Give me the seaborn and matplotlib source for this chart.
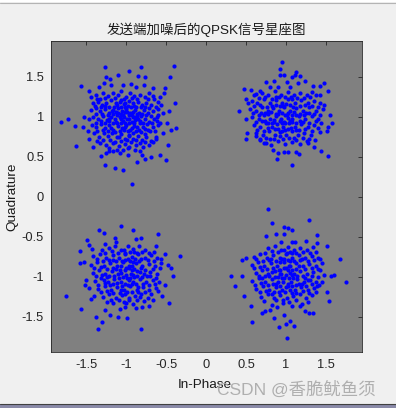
import numpy as np
import pandas as pd
import matplotlib
matplotlib.use("Agg")
import matplotlib.pyplot as plt
import seaborn as sns
from matplotlib.lines import Line2D
from matplotlib.patches import Rectangle

# Received QPSK symbols (I, Q), one list per constellation point
ul_points = [
    (-1.26, 1.62), (-0.81, 1.62), (-0.40, 1.64), (-0.96, 1.57), (-1.10, 1.53), (-1.25, 1.50),
    (-1.20, 1.48), (-0.85, 1.51), (-0.77, 1.50), (-0.45, 1.50), (-1.56, 1.39), (-1.47, 1.33),
    (-1.34, 1.38), (-1.28, 1.42), (-1.19, 1.40), (-1.04, 1.40), (-0.94, 1.41), (-0.88, 1.38),
    (-0.78, 1.40), (-0.66, 1.36), (-0.52, 1.36), (-0.53, 1.30), (-0.58, 1.25), (-0.39, 1.18),
    (-0.46, 1.07), (-0.375, 0.86), (-0.44, 0.84), (-0.49, 0.92), (-1.81, 0.94), (-1.73, 0.97),
    (-1.64, 0.89), (-1.54, 0.88), (-1.53, 1.00), (-1.47, 0.97), (-1.48, 0.82), (-1.63, 0.64),
    (-1.41, 0.63), (-1.46, 0.73), (-1.31, 0.51), (-1.25, 0.55), (-1.21, 0.57), (-1.17, 0.57),
    (-1.08, 0.55), (-0.98, 0.53), (-0.89, 0.59), (-0.80, 0.53), (-0.76, 0.47), (-0.69, 0.50),
    (-0.58, 0.53), (-0.50, 0.46), (-0.48, 0.65), (-1.26, 0.40), (-1.14, 0.36), (-1.04, 0.34),
    (-0.86, 0.44), (-0.93, 0.16), (-0.63, 0.75), (-0.54, 0.80),
    (-1.44, 1.25), (-1.38, 1.27), (-1.33, 1.23), (-1.29, 1.30), (-1.23, 1.26), (-1.17, 1.30),
    (-1.10, 1.27), (-1.06, 1.32), (-1.00, 1.25), (-0.95, 1.30), (-0.90, 1.26), (-0.83, 1.275),
    (-0.77, 1.25), (-0.71, 1.30), (-0.65, 1.23), (-0.60, 1.19),
    (-1.42, 1.17), (-1.35, 1.19), (-1.30, 1.15), (-1.25, 1.18), (-1.19, 1.21), (-1.13, 1.17),
    (-1.08, 1.19), (-1.02, 1.17), (-0.97, 1.20), (-0.92, 1.17), (-0.85, 1.19), (-0.80, 1.15),
    (-0.75, 1.18), (-0.69, 1.15), (-0.63, 1.13), (-0.56, 1.15),
    (-1.44, 1.09), (-1.375, 1.11), (-1.33, 1.07), (-1.26, 1.10), (-1.21, 1.05), (-1.16, 1.09),
    (-1.10, 1.11), (-1.05, 1.07), (-1.00, 1.10), (-0.95, 1.05), (-0.89, 1.09), (-0.84, 1.055),
    (-0.78, 1.09), (-0.73, 1.05), (-0.67, 1.07), (-0.60, 1.03), (-0.54, 1.05),
    (-1.41, 1.00), (-1.35, 0.97), (-1.29, 1.01), (-1.24, 0.96), (-1.19, 1.00), (-1.13, 0.94),
    (-1.08, 1.00), (-1.04, 0.95), (-0.99, 0.98), (-0.93, 0.94), (-0.875, 1.00), (-0.825, 0.95),
    (-0.77, 0.98), (-0.71, 0.94), (-0.65, 0.97), (-0.58, 0.92),
    (-1.425, 0.90), (-1.375, 0.88), (-1.31, 0.91), (-1.26, 0.86), (-1.21, 0.90), (-1.16, 0.84),
    (-1.10, 0.89), (-1.05, 0.86), (-1.00, 0.90), (-0.95, 0.84), (-0.90, 0.89), (-0.84, 0.84),
    (-0.79, 0.88), (-0.73, 0.84), (-0.67, 0.88), (-0.60, 0.90),
    (-1.40, 0.80), (-1.34, 0.75), (-1.28, 0.80), (-1.23, 0.76), (-1.175, 0.80), (-1.12, 0.745),
    (-1.06, 0.79), (-1.01, 0.73), (-0.96, 0.78), (-0.91, 0.72), (-0.85, 0.76), (-0.80, 0.71),
    (-0.75, 0.745), (-0.69, 0.70), (-0.63, 0.73),
    (-1.33, 0.67), (-1.25, 0.65), (-1.17, 0.68), (-1.09, 0.64), (-1.02, 0.66), (-0.96, 0.62),
    (-0.875, 0.65), (-0.79, 0.62), (-0.71, 0.65),
    (-1.15, 1.13), (-1.06, 1.13), (-0.98, 1.14), (-1.21, 1.13), (-0.875, 1.13), (-1.04, 1.03),
    (-1.10, 1.05), (-0.93, 1.03), (-1.16, 0.92), (-0.83, 0.92), (-1.26, 0.93), (-0.98, 0.82),
    (-1.08, 0.82), (-0.875, 0.82), (-0.77, 0.79), (-1.29, 0.71), (-0.94, 0.69), (-1.04, 0.59),
    (-1.12, 0.59), (-0.83, 0.57), (-0.98, 0.61), (-1.21, 0.61),
    (-1.03, 1.00), (-0.96, 0.93), (-1.07, 0.93), (-0.92, 1.00), (-1.12, 1.02), (-0.99, 1.06),
    (-0.89, 0.96), (-1.14, 0.97), (-1.01, 0.88), (-0.94, 1.12), (-1.18, 1.08), (-0.86, 1.04),
    (-1.06, 1.21), (-0.81, 1.01), (-1.22, 0.98), (-1.09, 0.75), (-0.97, 0.76), (-1.19, 0.86),
    (-0.91, 0.80), (-1.03, 1.16),
    (-1.36, 1.22), (-1.27, 1.235), (-1.14, 1.24), (-1.03, 1.225), (-0.93, 1.235), (-0.86, 1.22),
    (-0.73, 1.23), (-0.67, 1.26),
    (-1.39, 1.14), (-1.32, 1.12), (-1.27, 1.14), (-1.11, 1.15), (-1.01, 1.13), (-0.90, 1.14),
    (-0.82, 1.12), (-0.77, 1.13), (-0.71, 1.11), (-0.60, 1.10),
    (-1.38, 1.04), (-1.30, 1.04), (-1.23, 1.02), (-1.17, 1.04), (-1.13, 1.06), (-1.07, 1.04),
    (-1.02, 1.06), (-0.97, 1.02), (-0.91, 1.06), (-0.86, 1.01), (-0.80, 1.04), (-0.75, 1.02),
    (-0.69, 1.01), (-0.62, 1.00),
    (-1.38, 0.93), (-1.32, 0.95), (-1.21, 0.95), (-1.11, 0.92), (-1.06, 0.97), (-1.01, 0.93),
    (-0.97, 0.97), (-0.90, 0.92), (-0.85, 0.97), (-0.79, 0.93), (-0.74, 0.91), (-0.68, 0.92),
    (-0.62, 0.95),
    (-1.36, 0.83), (-1.29, 0.84), (-1.23, 0.82), (-1.14, 0.81), (-1.03, 0.84), (-0.93, 0.86),
    (-0.87, 0.87), (-0.81, 0.81), (-0.76, 0.85), (-0.70, 0.82), (-0.64, 0.82),
    (-1.37, 0.70), (-1.20, 0.71), (-1.14, 0.69), (-1.07, 0.70), (-0.99, 0.71), (-0.88, 0.71),
    (-0.83, 0.68), (-0.76, 0.69), (-0.66, 0.69),
]

ur_points = [
    (0.95, 1.69), (0.93, 1.60), (1.13, 1.56), (1.11, 1.53), (1.17, 1.51), (0.93, 1.525),
    (0.97, 1.525), (1.08, 1.50), (0.745, 1.44), (0.85, 1.45), (1.01, 1.44), (1.24, 1.45),
    (1.47, 1.43), (1.34, 1.39), (1.42, 1.39), (0.475, 1.35), (0.56, 1.34), (0.68, 1.325),
    (0.80, 1.37), (1.52, 1.32), (1.38, 1.27), (1.425, 1.275), (0.50, 1.23), (0.60, 1.27),
    (0.41, 1.08), (0.52, 1.17), (0.50, 0.975), (1.55, 1.03), (1.57, 0.92), (1.52, 0.88),
    (1.47, 1.15), (0.51, 0.80), (0.50, 0.73), (0.63, 0.76), (0.67, 0.71), (0.75, 0.68),
    (0.84, 0.59), (0.905, 0.55), (0.98, 0.56), (0.89, 0.48), (1.03, 0.56), (1.12, 0.56),
    (1.16, 0.54), (1.27, 0.675), (1.35, 0.63), (1.44, 0.57), (1.52, 0.51), (1.08, 0.40),
    (1.36, 0.71), (1.42, 0.81), (1.51, 0.82),
    (0.62, 1.29), (0.70, 1.30), (0.78, 1.27), (0.86, 1.32), (0.94, 1.28), (1.02, 1.31),
    (1.10, 1.27), (1.18, 1.30), (1.26, 1.28), (1.33, 1.31), (0.90, 1.37), (1.05, 1.38),
    (1.15, 1.42),
    (0.57, 1.20), (0.64, 1.17), (0.72, 1.22), (0.80, 1.18), (0.87, 1.21), (0.95, 1.17),
    (1.03, 1.22), (1.11, 1.18), (1.19, 1.21), (1.27, 1.17), (1.35, 1.20), (1.43, 1.18),
    (0.55, 1.10), (0.62, 1.07), (0.70, 1.12), (0.77, 1.08), (0.84, 1.11), (0.91, 1.07),
    (0.98, 1.12), (1.05, 1.08), (1.13, 1.11), (1.21, 1.07), (1.29, 1.12), (1.37, 1.08),
    (1.46, 1.10),
    (0.58, 1.00), (0.66, 0.97), (0.73, 1.02), (0.80, 0.98), (0.87, 1.01), (0.94, 0.97),
    (1.01, 1.02), (1.08, 0.98), (1.16, 1.01), (1.24, 0.97), (1.32, 1.01), (1.40, 0.98),
    (0.60, 0.90), (0.68, 0.87), (0.75, 0.92), (0.82, 0.88), (0.89, 0.91), (0.96, 0.87),
    (1.04, 0.92), (1.11, 0.88), (1.19, 0.91), (1.27, 0.87), (1.35, 0.90), (1.44, 0.93),
    (0.63, 0.80), (0.71, 0.77), (0.79, 0.82), (0.86, 0.78), (0.93, 0.81), (1.00, 0.77),
    (1.08, 0.82), (1.15, 0.78), (1.23, 0.80), (1.31, 0.77),
    (0.72, 0.68), (0.81, 0.65), (0.90, 0.70), (0.99, 0.66), (1.07, 0.69), (1.18, 0.66),
    (1.26, 0.70),
    (0.90, 1.04), (0.97, 0.94), (0.85, 0.96), (1.03, 1.05), (0.93, 1.14), (0.78, 1.04),
    (1.07, 0.94), (0.99, 0.84), (0.86, 0.85), (1.13, 1.03), (0.82, 1.14), (1.00, 1.16),
    (0.74, 0.95), (1.18, 0.95), (0.92, 0.76), (1.06, 1.25), (0.88, 1.25), (1.25, 1.05),
    (0.69, 1.05), (1.12, 0.84), (0.95, 0.92), (0.83, 0.93), (1.03, 0.99), (0.80, 0.73),
    (1.10, 0.74),
    (0.66, 1.24), (0.74, 1.25), (0.83, 1.23), (0.91, 1.245), (0.99, 1.25), (1.07, 1.23),
    (1.14, 1.24), (1.23, 1.235), (1.30, 1.25),
    (0.60, 1.14), (0.68, 1.15), (0.76, 1.13), (0.88, 1.15), (0.96, 1.14), (1.05, 1.15),
    (1.09, 1.13), (1.17, 1.14), (1.24, 1.15), (1.32, 1.14), (1.40, 1.13),
    (0.59, 1.05), (0.66, 1.03), (0.74, 1.05), (0.81, 1.06), (0.87, 1.04), (0.95, 1.05),
    (0.99, 1.03), (1.07, 1.03), (1.10, 1.06), (1.18, 1.04), (1.22, 1.02), (1.29, 1.05),
    (1.35, 1.04), (1.43, 1.03),
    (0.63, 0.94), (0.70, 0.95), (0.77, 0.93), (0.85, 0.94), (0.92, 0.95), (0.99, 0.93),
    (1.05, 0.95), (1.12, 0.93), (1.21, 0.94), (1.29, 0.93), (1.37, 0.95),
    (0.64, 0.84), (0.72, 0.83), (0.78, 0.86), (0.90, 0.85), (0.95, 0.83), (1.02, 0.85),
    (1.06, 0.86), (1.16, 0.84), (1.24, 0.85), (1.33, 0.83), (1.40, 0.86),
    (0.67, 0.73), (0.75, 0.74), (0.85, 0.72), (0.96, 0.73), (1.04, 0.74), (1.13, 0.71),
    (1.21, 0.74), (1.29, 0.73),
]

ll_points = [
    (-1.06, -0.37), (-1.34, -0.42), (-1.28, -0.45), (-0.92, -0.41), (-0.60, -0.46), (-1.49, -0.545),
    (-1.46, -0.60), (-1.145, -0.52), (-1.13, -0.56), (-0.875, -0.53), (-0.81, -0.52), (-1.575, -0.68),
    (-1.58, -0.83), (-1.53, -0.82), (-1.425, -0.65), (-1.27, -0.59), (-0.625, -0.61), (-0.51, -0.72),
    (-0.44, -0.89), (-0.33, -0.74), (-0.48, -0.85), (-1.75, -1.24), (-1.50, -1.04), (-1.52, -1.10),
    (-1.47, -1.14), (-1.44, -1.28), (-1.40, -1.24), (-1.57, -1.40), (-1.375, -1.50), (-1.30, -1.57),
    (-1.35, -1.65), (-1.20, -1.48), (-1.10, -1.50), (-0.99, -1.52), (-0.81, -1.65), (-0.875, -1.39),
    (-0.80, -1.38), (-0.72, -1.36), (-0.66, -1.29), (-0.55, -1.24), (-0.47, -1.33), (-0.42, -0.99),
    (-0.52, -1.10), (-0.60, -1.18), (-1.26, -1.41), (-1.08, -1.40), (-1.02, -1.38),
    (-1.22, -0.64), (-1.14, -0.62), (-1.06, -0.66), (-0.98, -0.61), (-0.91, -0.65), (-0.84, -0.62),
    (-0.76, -0.66), (-1.30, -0.67),
    (-1.41, -0.74), (-1.33, -0.72), (-1.25, -0.76), (-1.17, -0.73), (-1.09, -0.77), (-1.01, -0.72),
    (-0.93, -0.75), (-0.85, -0.72), (-0.77, -0.76), (-0.69, -0.73), (-0.61, -0.77),
    (-1.44, -0.85), (-1.36, -0.82), (-1.28, -0.86), (-1.20, -0.83), (-1.12, -0.87), (-1.04, -0.82),
    (-0.96, -0.86), (-0.88, -0.83), (-0.80, -0.87), (-0.72, -0.84), (-0.64, -0.86), (-0.56, -0.83),
    (-1.42, -0.95), (-1.34, -0.92), (-1.26, -0.96), (-1.18, -0.93), (-1.10, -0.97), (-1.02, -0.92),
    (-0.94, -0.96), (-0.86, -0.93), (-0.78, -0.97), (-0.70, -0.94), (-0.62, -0.96),
    (-1.39, -1.05), (-1.31, -1.02), (-1.23, -1.06), (-1.15, -1.03), (-1.07, -1.07), (-0.99, -1.02),
    (-0.91, -1.06), (-0.83, -1.03), (-0.75, -1.07), (-0.67, -1.04), (-0.59, -1.06),
    (-1.35, -1.15), (-1.27, -1.12), (-1.19, -1.16), (-1.11, -1.13), (-1.03, -1.17), (-0.95, -1.12),
    (-0.87, -1.16), (-0.79, -1.13), (-0.71, -1.17), (-0.63, -1.14),
    (-1.29, -1.25), (-1.21, -1.22), (-1.13, -1.26), (-1.05, -1.23), (-0.97, -1.27), (-0.89, -1.24),
    (-0.81, -1.22), (-0.73, -1.26),
    (-1.16, -1.33), (-1.03, -1.31), (-0.92, -1.34), (-1.24, -1.31),
    (-1.00, -0.98), (-0.95, -1.01), (-1.06, -0.95), (-0.97, -0.89), (-1.09, -1.01), (-0.90, -1.00),
    (-1.02, -1.09), (-0.93, -0.91), (-1.13, -0.90), (-0.98, -0.78), (-1.05, -0.80), (-0.88, -1.09),
    (-1.16, -1.09), (-0.83, -0.94), (-1.21, -0.99), (-0.99, -1.19), (-1.08, -1.20), (-0.90, -0.69),
    (-1.10, -0.70), (-0.85, -1.19), (-1.28, -1.04), (-0.74, -0.99), (-1.01, -0.70), (-0.96, -1.29),
    (-1.17, -0.79), (-0.81, -0.78), (-0.92, -0.81), (-1.07, -0.87),
    (-1.26, -0.70), (-1.18, -0.68), (-1.03, -0.67), (-0.95, -0.69), (-0.87, -0.70), (-0.80, -0.69),
    (-0.72, -0.70), (-0.65, -0.69),
    (-1.37, -0.78), (-1.29, -0.80), (-1.21, -0.79), (-1.13, -0.80), (-1.02, -0.79), (-0.95, -0.80),
    (-0.89, -0.78), (-0.84, -0.80), (-0.73, -0.79), (-0.65, -0.80), (-0.57, -0.78),
    (-1.40, -0.89), (-1.32, -0.88), (-1.24, -0.90), (-1.17, -0.89), (-1.08, -0.91), (-1.00, -0.89),
    (-0.93, -0.87), (-0.90, -0.90), (-0.82, -0.89), (-0.76, -0.91), (-0.67, -0.90), (-0.58, -0.89),
    (-1.38, -0.99), (-1.30, -0.98), (-1.24, -1.00), (-1.15, -0.99), (-1.04, -1.00), (-0.97, -1.04),
    (-0.92, -0.98), (-0.86, -0.99), (-0.80, -1.00), (-0.70, -0.99), (-0.63, -1.01),
    (-1.35, -1.10), (-1.27, -1.08), (-1.20, -1.10), (-1.12, -1.08), (-1.05, -1.12), (-0.98, -1.10),
    (-0.93, -1.09), (-0.85, -1.13), (-0.79, -1.09), (-0.71, -1.10), (-0.64, -1.09),
    (-1.31, -1.19), (-1.24, -1.18), (-1.16, -1.20), (-1.07, -1.16), (-1.01, -1.22), (-0.93, -1.19),
    (-0.83, -1.25), (-0.77, -1.19), (-0.69, -1.21),
    (-1.19, -1.29), (-1.09, -1.29), (-1.00, -1.33), (-0.86, -1.29), (-0.78, -1.30),
]

lr_points = [
    (0.77, -0.15), (1.29, -0.29), (0.825, -0.325), (0.98, -0.38), (1.02, -0.39), (1.075, -0.41),
    (0.98, -0.47), (0.875, -0.46), (0.755, -0.495), (1.39, -0.48), (1.25, -0.555), (1.07, -0.57),
    (1.11, -0.57), (0.94, -0.57), (1.39, -0.58), (1.51, -0.62), (1.67, -0.78), (1.75, -1.06),
    (1.60, -0.975), (1.56, -0.995), (0.455, -0.79), (0.495, -0.76), (0.315, -0.995), (0.455, -0.995),
    (0.365, -1.12), (0.48, -1.245), (0.56, -1.36), (1.54, -1.30), (1.51, -1.19), (0.57, -1.56),
    (0.85, -1.52), (0.91, -1.63), (1.00, -1.59), (1.10, -1.61), (1.05, -1.55), (0.97, -1.48),
    (1.01, -1.77), (0.70, -1.455), (0.74, -1.43), (0.80, -1.41), (1.24, -1.425), (1.29, -1.455),
    (1.34, -1.455), (1.175, -1.37), (1.39, -1.12), (1.45, -1.065),
    (0.78, -0.64), (0.86, -0.62), (0.94, -0.66), (1.02, -0.63), (1.10, -0.67), (1.18, -0.64),
    (1.26, -0.66), (1.34, -0.63),
    (0.60, -0.75), (0.68, -0.72), (0.76, -0.76), (0.84, -0.73), (0.92, -0.77), (1.00, -0.72),
    (1.08, -0.76), (1.16, -0.73), (1.24, -0.77), (1.32, -0.74), (1.40, -0.76),
    (0.57, -0.85), (0.65, -0.82), (0.73, -0.86), (0.81, -0.83), (0.89, -0.87), (0.97, -0.82),
    (1.05, -0.86), (1.13, -0.83), (1.21, -0.87), (1.29, -0.84), (1.37, -0.86), (1.45, -0.83),
    (0.62, -0.95), (0.70, -0.92), (0.78, -0.96), (0.86, -0.93), (0.94, -0.97), (1.02, -0.92),
    (1.10, -0.96), (1.18, -0.93), (1.26, -0.97), (1.34, -0.94), (1.42, -0.92),
    (0.58, -1.05), (0.66, -1.02), (0.74, -1.06), (0.82, -1.03), (0.90, -1.07), (0.98, -1.02),
    (1.06, -1.06), (1.14, -1.03), (1.22, -1.07), (1.30, -1.04), (1.38, -1.06),
    (0.63, -1.15), (0.71, -1.12), (0.79, -1.16), (0.87, -1.13), (0.95, -1.17), (1.03, -1.12),
    (1.11, -1.16), (1.19, -1.13), (1.27, -1.17), (1.35, -1.14),
    (0.69, -1.25), (0.77, -1.22), (0.85, -1.26), (0.93, -1.23), (1.01, -1.27), (1.09, -1.24),
    (1.17, -1.22), (1.25, -1.26), (1.33, -1.23),
    (0.82, -1.35), (0.96, -1.33), (1.08, -1.37), (1.20, -1.34), (0.89, -1.38),
    (1.00, -0.98), (0.95, -1.01), (1.05, -0.95), (0.97, -0.89), (1.09, -1.01), (0.90, -1.00),
    (1.02, -1.09), (0.93, -0.91), (1.13, -0.90), (0.98, -0.78), (1.05, -0.80), (0.88, -1.09),
    (1.16, -1.09), (0.83, -0.94), (1.21, -0.99), (0.99, -1.19), (1.08, -1.20), (0.90, -0.69),
    (1.07, -0.70), (0.85, -1.19), (1.28, -1.04), (0.74, -0.99), (1.01, -0.70), (0.96, -1.29),
    (1.17, -0.79), (0.81, -0.78), (0.92, -0.81), (1.04, -0.87), (0.96, -1.07), (1.12, -1.10),
    (0.74, -0.70), (0.82, -0.68), (0.97, -0.67), (1.05, -0.69), (1.13, -0.70), (1.21, -0.69),
    (1.30, -0.70), (1.37, -0.69),
    (0.63, -0.78), (0.71, -0.80), (0.79, -0.79), (0.87, -0.80), (0.95, -0.78), (1.03, -0.79),
    (1.10, -0.80), (1.20, -0.78), (1.27, -0.80), (1.35, -0.79), (1.43, -0.78),
    (0.60, -0.89), (0.68, -0.88), (0.76, -0.90), (0.84, -0.89), (0.91, -0.91), (1.00, -0.89),
    (1.07, -0.91), (1.16, -0.87), (1.24, -0.90), (1.32, -0.89), (1.40, -0.90),
    (0.66, -0.99), (0.70, -1.01), (0.79, -0.99), (0.86, -1.00), (0.93, -0.97), (1.04, -1.01),
    (1.08, -0.98), (1.14, -0.99), (1.24, -1.01), (1.32, -0.99), (1.40, -1.00), (1.47, -0.98),
    (0.61, -1.10), (0.69, -1.08), (0.77, -1.10), (0.84, -1.09), (0.92, -1.11), (1.00, -1.13),
    (1.07, -1.11), (1.20, -1.09), (1.25, -1.11), (1.33, -1.09), (1.41, -1.10),
    (0.67, -1.19), (0.75, -1.18), (0.83, -1.21), (0.91, -1.19), (1.05, -1.17), (1.13, -1.20),
    (1.21, -1.18), (1.29, -1.20), (1.37, -1.19),
    (0.73, -1.30), (0.88, -1.29), (1.04, -1.31), (1.13, -1.29), (1.28, -1.31),
]

tick_values = [-1.5, -1, -0.5, 0, 0.5, 1, 1.5]
tick_labels = ["-1.5", "-1", "-0.5", "0", "0.5", "1", "1.5"]
title = "发送端加噪后的QPSK信号星座图"

pts = np.array(ul_points + ur_points + ll_points + lr_points)
df = pd.DataFrame({"In-Phase": pts[:, 0], "Quadrature": pts[:, 1]})

sns.set_style("white")
plt.rcParams["font.family"] = ["Liberation Sans", "Noto Sans CJK SC", "DejaVu Sans"]

fig = plt.figure(figsize=(3.96, 4.08), dpi=100, facecolor="#f0f0f0")
ax = fig.add_axes([51 / 396, 56 / 408, 311 / 396, 311 / 408])
ax.set_facecolor("#808080")

sns.scatterplot(data=df, x="In-Phase", y="Quadrature", ax=ax, color="#0000ff",
                s=9, linewidth=0, legend=False, zorder=3)

ax.set_xlim(-1.94, 1.95)
ax.set_ylim(-1.94, 1.95)
ax.set_xticks(tick_values)
ax.set_xticklabels(tick_labels)
ax.set_yticks(tick_values)
ax.set_yticklabels(tick_labels)
ax.tick_params(direction="in", length=3, width=0.6, top=True, right=True,
               labelsize=9.3, colors="#262626", pad=5)
for sp in ax.spines.values():
    sp.set_color("#262626")
    sp.set_linewidth(0.6)
ax.set_xlabel("")
ax.set_ylabel("")

fig.text(206 / 396, 1 - 30 / 408, title, ha="center", va="center",
         fontsize=9.7, color="#1a1a1a")
fig.text(205 / 396, 1 - 385 / 408, "In-Phase", ha="center", va="center",
         fontsize=9.7, color="#1a1a1a")
fig.text(12 / 396, 1 - 197 / 408, "Quadrature", ha="center", va="center",
         rotation=90, fontsize=9.7, color="#1a1a1a")
fig.text(296 / 396, 1 - 389 / 408, "CSDN @香脆鱿鱼须", ha="center", va="center",
         fontsize=12.5, color="#a8a8a8", alpha=0.9)

# window edges from the screenshot
fig.add_artist(Rectangle((0, 1 - 2 / 408), 1, 2 / 408, transform=fig.transFigure,
                         color="white", lw=0))
fig.add_artist(Line2D([0, 1], [1 - 2.5 / 408] * 2, transform=fig.transFigure,
                      color="#b4b4b4", lw=0.8))
fig.add_artist(Rectangle((0, 0), 1, 4 / 408, transform=fig.transFigure,
                         color="#8a8aa8", lw=0))
fig.add_artist(Line2D([0, 1], [4.5 / 408] * 2, transform=fig.transFigure,
                      color="#404040", lw=0.8))

fig.savefig("out.png", dpi=100, facecolor=fig.get_facecolor())
plt.close(fig)
